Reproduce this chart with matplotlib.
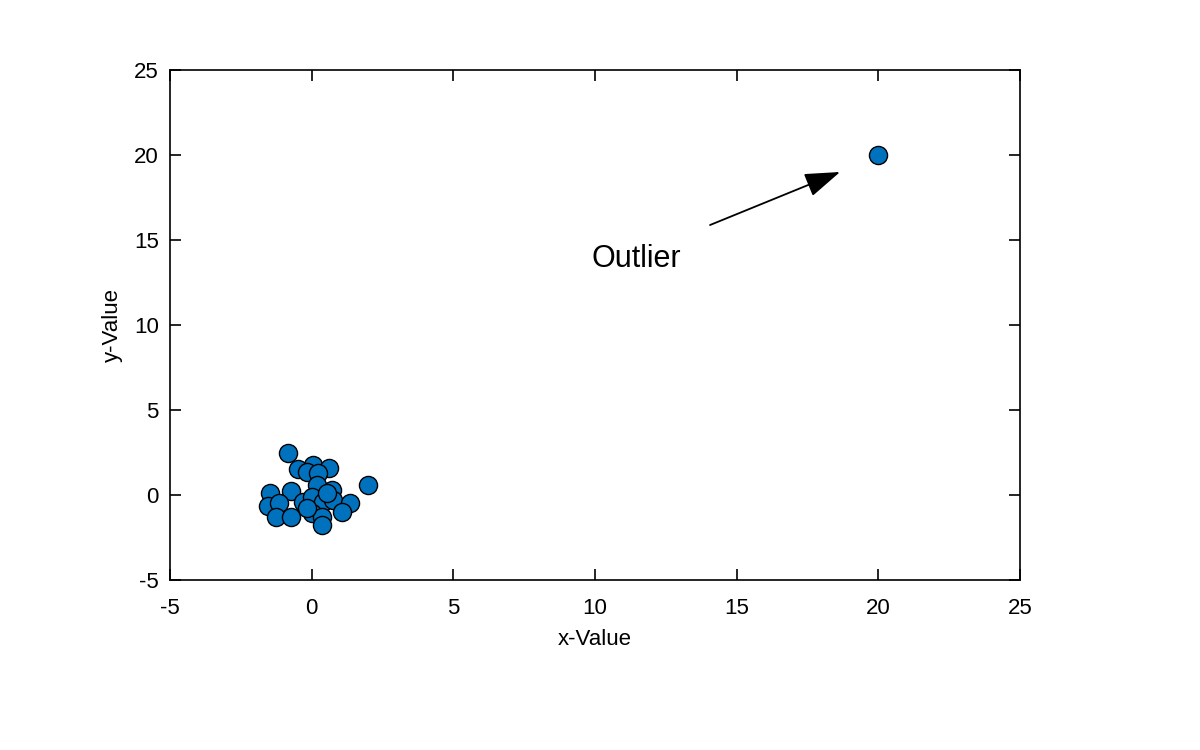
import matplotlib
matplotlib.use("Agg")
import matplotlib.pyplot as plt

# cluster of normal points plus one outlier
x_vals = [-0.83, 2.0, -0.47, 0.06, 0.62, -0.18, 0.24, 0.18, -1.47, -0.74, 0.71,
          -1.53, -1.14, -1.26, -0.74, -0.30, 0.0, 0.41, 0.74, 1.35, 1.06, 0.0,
          0.35, 0.35, 0.53, -0.18, 20.0]
y_vals = [2.49, 0.59, 1.51, 1.76, 1.57, 1.37, 1.31, 0.59, 0.14, 0.25, 0.29,
          -0.65, -0.49, -1.27, -1.31, -0.39, -0.10, -0.39, -0.29, -0.45, -0.98, -1.08,
          -1.31, -1.76, 0.10, -0.78, 20.0]

x_ticks = [-5, 0, 5, 10, 15, 20, 25]
y_ticks = [-5, 0, 5, 10, 15, 20, 25]

plt.rcParams['font.family'] = ['Liberation Sans', 'DejaVu Sans']
plt.rcParams['axes.unicode_minus'] = False

fig = plt.figure(figsize=(12, 7.5), dpi=100)
ax = fig.add_axes([0.1417, 0.2267, 0.7083, 0.68])

ax.scatter(x_vals, y_vals, s=170, c='#0072BD', edgecolors='black', linewidths=1.0, zorder=3)

ax.annotate('', xy=(18.65, 19.0), xytext=(14.06, 15.88),
            arrowprops=dict(arrowstyle='-|>,head_length=2.2,head_width=0.75', color='black', lw=1.3,
                            shrinkA=0, shrinkB=0))
ax.text(9.86, 13.9, 'Outlier', fontsize=22, ha='left', va='center')

ax.set_xlim(-5, 25)
ax.set_ylim(-5, 25)
ax.set_xticks(x_ticks)
ax.set_yticks(y_ticks)
ax.tick_params(direction='in', length=8, width=1.2, top=True, right=True, labelsize=16)
ax.tick_params(axis='x', pad=13)
ax.tick_params(axis='y', pad=8)
for sp in ax.spines.values():
    sp.set_linewidth(1.2)

ax.set_xlabel('x-Value', fontsize=16, labelpad=7)
ax.set_ylabel('y-Value', fontsize=16, labelpad=8)

fig.savefig('out.png', dpi=100)
